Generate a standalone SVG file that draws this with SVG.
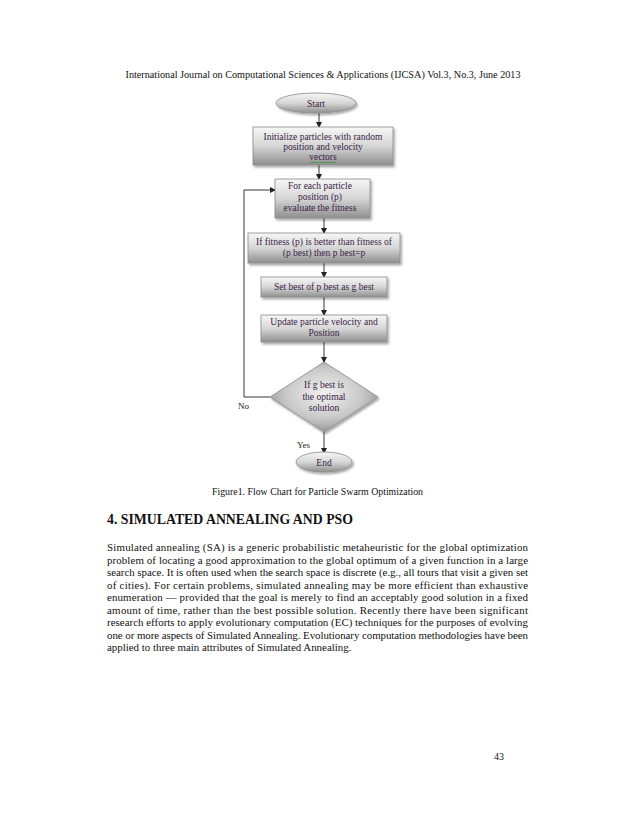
<svg xmlns="http://www.w3.org/2000/svg" width="638" height="826" viewBox="0 0 638 826">
<defs>
<linearGradient id="g" x1="0" y1="0" x2="0" y2="1">
<stop offset="0" stop-color="#f7f7f7"/>
<stop offset="0.5" stop-color="#d6d6d6"/>
<stop offset="1" stop-color="#8f8f8f"/>
</linearGradient>
<radialGradient id="gd" cx="0.5" cy="0.45" r="0.6">
<stop offset="0" stop-color="#f2f2f2"/>
<stop offset="0.6" stop-color="#c8c8c8"/>
<stop offset="1" stop-color="#8a8a8a"/>
</radialGradient>
<filter id="sh" x="-10%" y="-10%" width="130%" height="140%">
<feDropShadow dx="1.5" dy="2" stdDeviation="1.2" flood-color="#000" flood-opacity="0.35"/>
</filter>
<marker id="ah" markerWidth="6" markerHeight="6" refX="5" refY="3" orient="auto" markerUnits="userSpaceOnUse">
<path d="M0,0 L6,3 L0,6 Z" fill="#222"/>
</marker>
</defs>
<style>
.n{fill:url(#g);stroke:#8a8a8a;stroke-width:0.8;filter:url(#sh)}
.d{fill:url(#gd);stroke:#8a8a8a;stroke-width:0.8;filter:url(#sh)}
.t{font-family:"Liberation Serif",serif;font-size:9.5px;fill:#3a1d45;text-anchor:middle}
.c{stroke:#222;stroke-width:0.9;fill:none;marker-end:url(#ah)}
.l{font-family:"Liberation Serif",serif;font-size:9px;fill:#222}
.p{font-family:"Liberation Serif",serif;fill:#111}
</style>
<rect width="638" height="826" fill="#fff"/>
<text class="p" x="323" y="78" font-size="10" text-anchor="middle" textLength="395" lengthAdjust="spacingAndGlyphs">International Journal on Computational Sciences &amp; Applications (IJCSA) Vol.3, No.3, June 2013</text>

<g id="connectors">
<line class="c" x1="319" y1="113" x2="319" y2="127"/>
<line class="c" x1="319" y1="165" x2="319" y2="179"/>
<line class="c" x1="324" y1="218" x2="324" y2="233"/>
<line class="c" x1="324" y1="263" x2="324" y2="277"/>
<line class="c" x1="324" y1="297" x2="324" y2="315"/>
<line class="c" x1="324" y1="342" x2="324" y2="362"/>
<line class="c" x1="324" y1="432" x2="324" y2="453"/>
<polyline class="c" points="270,397 244,397 244,190 275,190"/>
<text class="l" x="238" y="409">No</text>
<text class="l" x="297" y="448">Yes</text>
</g>

<g id="start">
<ellipse class="n" cx="316" cy="103" rx="40" ry="10"/>
<text class="t" x="316" y="106.5">Start</text>
</g>
<g id="init">
<rect class="n" x="253" y="127" width="140" height="38"/>
<text class="t" x="323" y="140">Initialize particles with random</text>
<text class="t" x="323" y="150">position and velocity</text>
<text class="t" x="323" y="160">vectors</text>
<line x1="310" y1="162.5" x2="336" y2="162.5" stroke="#3a9a3a" stroke-width="0.8"/>
</g>
<g id="evaluate">
<rect class="n" x="275" y="179" width="95" height="39"/>
<text class="t" x="320" y="189">For each particle</text>
<text class="t" x="320" y="200">position (p)</text>
<text class="t" x="320" y="211">evaluate the fitness</text>
</g>
<g id="pbest">
<rect class="n" x="248" y="233" width="152" height="30"/>
<text class="t" x="324" y="245">If fitness (p) is better than fitness of</text>
<text class="t" x="324" y="256">(p best) then p best=p</text>
</g>
<g id="gbest">
<rect class="n" x="261" y="277" width="126" height="20"/>
<text class="t" x="324" y="290">Set best of p best as g best</text>
</g>
<g id="update">
<rect class="n" x="261" y="315" width="126" height="27"/>
<text class="t" x="324" y="325">Update particle velocity and</text>
<text class="t" x="324" y="336">Position</text>
</g>
<g id="decision">
<polygon class="d" points="324,362 378,397 324,432 270,397"/>
<text class="t" x="324" y="388">If g best is</text>
<text class="t" x="324" y="400">the optimal</text>
<text class="t" x="324" y="411">solution</text>
</g>
<g id="end">
<ellipse class="n" cx="324" cy="462" rx="28" ry="10"/>
<text class="t" x="324" y="465.5">End</text>
</g>

<text class="p" x="317.5" y="495" font-size="10" text-anchor="middle" textLength="211" lengthAdjust="spacingAndGlyphs">Figure1. Flow Chart for Particle Swarm Optimization</text>
<text class="p" x="107" y="524" font-size="15" font-weight="bold" textLength="246" lengthAdjust="spacingAndGlyphs">4. SIMULATED ANNEALING AND PSO</text>

<g class="p" font-size="10.9">
<text x="107" y="551" textLength="421" lengthAdjust="spacing">Simulated annealing (SA) is a generic probabilistic metaheuristic for the global optimization</text>
<text x="107" y="563.5" textLength="421" lengthAdjust="spacing">problem of locating a good approximation to the global optimum of a given function in a large</text>
<text x="107" y="576" textLength="421" lengthAdjust="spacing">search space. It is often used when the search space is discrete (e.g., all tours that visit a given set</text>
<text x="107" y="588.5" textLength="421" lengthAdjust="spacing">of cities). For certain problems, simulated annealing may be more efficient than exhaustive</text>
<text x="107" y="601" textLength="421" lengthAdjust="spacing">enumeration — provided that the goal is merely to find an acceptably good solution in a fixed</text>
<text x="107" y="613.5" textLength="421" lengthAdjust="spacing">amount of time, rather than the best possible solution. Recently there have been significant</text>
<text x="107" y="626" textLength="421" lengthAdjust="spacing">research efforts to apply evolutionary computation (EC) techniques for the purposes of evolving</text>
<text x="107" y="638.5" textLength="421" lengthAdjust="spacing">one or more aspects of Simulated Annealing. Evolutionary computation methodologies have been</text>
<text x="107" y="651">applied to three main attributes of Simulated Annealing.</text>
</g>
<text class="p" x="494" y="760" font-size="10">43</text>
</svg>
